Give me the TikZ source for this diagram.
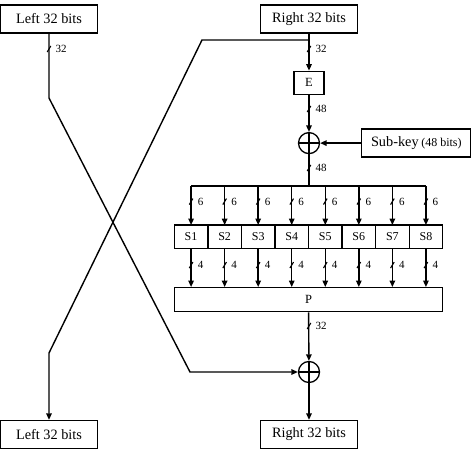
\documentclass[tikz,border=0pt]{standalone}
\usepackage{fontspec}
\setmainfont{Liberation Serif}
\usetikzlibrary{positioning, arrows.meta}

\begin{document}
\begin{tikzpicture}[x=1pt, y=-1pt, line width=1.4pt,
  caja/.style={draw, line width=1.3pt, inner sep=0pt, minimum width=97pt, minimum height=28pt, font=\fontsize{14.3}{16}\selectfont},
  sbox/.style={draw, line width=1.3pt, inner sep=0pt, outer sep=0pt, minimum width=33.55pt, minimum height=23.3pt, font=\fontsize{12}{14}\selectfont},
  xor/.style={draw, circle, line width=1.3pt, inner sep=0pt, minimum size=21pt,
    path picture={\draw[line width=1.3pt] (path picture bounding box.north) -- (path picture bounding box.south)
      (path picture bounding box.west) -- (path picture bounding box.east);}},
  flecha/.style={-{Triangle[length=6.5pt,width=5.5pt]}},
  corte/.pic={\draw[line width=1.1pt] (-1.8,3) -- (1.8,-3);
    \node[right, inner sep=0pt, font=\fontsize{11}{12}\selectfont] at (6,0) {#1};}
]
  \useasboundingbox (0,0) rectangle (474,474);

  % Mitades de entrada
  \node[caja] (L1) at (49,19) {Left 32 bits};
  \node[caja] (R1) at (309,19) {Right 32 bits};

  % Expansion y subclave
  \node[draw, line width=1.3pt, minimum width=30pt, minimum height=23pt, font=\fontsize{12.5}{14}\selectfont, below=37pt of R1] (E) {E};
  \node[xor, below=37pt of E] (X1) {};
  \node[caja, minimum width=109pt, right=41pt of X1] (K) {Sub-key\hspace{-1pt} {\fontsize{12}{14}\selectfont(48 bits)}};

  % Cajas S y permutacion
  \foreach \i in {1,...,8}
    \node[sbox] (S\i) at ({174.3+33.55*(\i-0.5)},236.7) {S\i};
  \node[draw, line width=1.3pt, minimum width=268.4pt, minimum height=24pt, font=\fontsize{12.5}{14}\selectfont] (P) at (308.5,299.7) {P};

  % Salida
  \node[xor] (X2) at (309,372) {};
  \node[caja] (L2) at (49,434.5) {Left 32 bits};
  \node[caja] (R2) at (309,434.5) {Right 32 bits};

  % Puntos de quiebre
  \coordinate (a1) at (49,98);
  \coordinate (a2) at (190,372);
  \coordinate (b0) at (309,40);
  \coordinate (b1) at (202,40);
  \coordinate (b2) at (49,353);
  \coordinate (bus) at (309,186);

  % Cruce de las mitades
  \draw[flecha] (L1) -- (a1) -- (a2) -- (X2);
  \draw[flecha] (b0) -- (b1) -- (b2) -- (L2);
  \pic at (49,49) {corte=32};

  % Rama derecha
  \draw[flecha] (R1) -- (E);
  \pic at (309,49) {corte=32};
  \draw[flecha] (E) -- (X1);
  \pic at (309,109) {corte=48};
  \draw[flecha] (K) -- (X1);
  \draw (X1) -- (bus);
  \pic at (309,168) {corte=48};
  \draw (S1.north |- bus) -- (S8.north |- bus);

  \foreach \i in {1,...,8} {
    \draw[flecha] (S\i.north |- bus) -- (S\i.north);
    \path (S\i.north) ++(0,-23.5) pic {corte=6};
    \draw[flecha] (S\i.south) -- (S\i.south |- P.north);
    \path (S\i.south) ++(0,16.7) pic {corte=4};
  }

  \draw[flecha] (P) -- (X2);
  \pic at (309,326) {corte=32};
  \draw[flecha] (X2) -- (R2);
\end{tikzpicture}
\end{document}
